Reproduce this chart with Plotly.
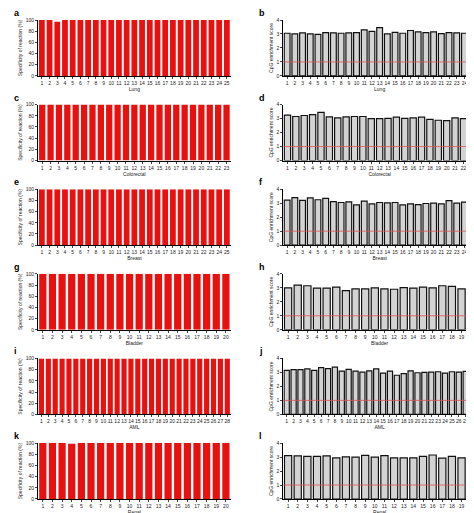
import plotly.graph_objects as go
from plotly.subplots import make_subplots

tissues = ['Lung', 'Colorectal', 'Breast', 'Bladder', 'AML', 'Renal']
left_letters = ['a', 'c', 'e', 'g', 'i', 'k']
right_letters = ['b', 'd', 'f', 'h', 'j', 'l']

# specificity of reaction (%)
spec_lung = [100, 100, 97] + [100] * 22
spec_colorectal = [100] * 23
spec_breast = [100] * 25
spec_bladder = [100] * 20
spec_aml = [100] * 28
spec_renal = [100, 100, 100, 99, 100, 100, 100, 100, 100, 100, 100, 100, 100, 100, 100, 100, 100, 100, 100, 100]

# CpG enrichment score
cpg_lung = [3.05, 3.0, 3.08, 3.0, 2.97, 3.1, 3.08, 3.05, 3.08, 3.1, 3.3, 3.18, 3.45, 3.0, 3.12,
            3.05, 3.25, 3.15, 3.1, 3.15, 3.02, 3.1, 3.08, 3.05, 3.05]
cpg_colorectal = [3.25, 3.15, 3.22, 3.28, 3.45, 3.12, 3.05, 3.12, 3.15, 3.15, 3.0, 3.0, 3.02,
                  3.1, 3.02, 3.05, 3.1, 2.95, 2.88, 2.85, 3.05, 3.0, 2.95]
cpg_breast = [3.22, 3.4, 3.2, 3.38, 3.25, 3.35, 3.12, 3.05, 3.1, 2.88, 3.15, 2.95, 3.05, 3.02,
              3.05, 2.88, 2.95, 2.9, 2.98, 3.0, 2.95, 3.18, 3.0, 3.08, 3.1]
cpg_bladder = [3.0, 3.2, 3.15, 2.98, 2.98, 3.05, 2.8, 2.92, 2.92, 3.0, 2.92, 2.9, 3.02, 2.98,
               3.05, 3.0, 3.15, 3.1, 2.92, 2.95]
cpg_aml = [3.15, 3.2, 3.2, 3.25, 3.15, 3.35, 3.28, 3.38, 3.1, 3.22, 3.1, 3.02, 3.12, 3.25, 2.95,
           3.1, 2.8, 2.92, 3.12, 2.98, 3.0, 3.02, 3.05, 2.95, 3.05, 3.02, 3.08, 3.05]
cpg_renal = [3.1, 3.08, 3.05, 3.05, 3.08, 2.95, 3.02, 3.0, 3.12, 3.0, 3.1, 2.95, 2.95, 2.95,
             3.05, 3.15, 2.92, 3.05, 2.95, 3.12]

spec = [spec_lung, spec_colorectal, spec_breast, spec_bladder, spec_aml, spec_renal]
cpg = [cpg_lung, cpg_colorectal, cpg_breast, cpg_bladder, cpg_aml, cpg_renal]

fig = make_subplots(rows=6, cols=2, horizontal_spacing=0.12, vertical_spacing=0.06)
tick_font = dict(size=5, color='#222', family='Liberation Sans')

for i in range(6):
    r = i + 1
    n = len(spec[i])
    cats = [str(k) for k in range(1, n + 1)]
    fig.add_trace(go.Bar(x=cats, y=spec[i], marker=dict(color='#e8110f', line=dict(width=0)),
                         width=0.75, showlegend=False), row=r, col=1)
    fig.add_trace(go.Bar(x=cats, y=cpg[i], marker=dict(color='#d3d3d3', line=dict(color='#111', width=1.2)),
                         width=0.75, showlegend=False), row=r, col=2)
    for c in (1, 2):
        fig.update_xaxes(title=dict(text=tissues[i], font=tick_font, standoff=1), tickfont=tick_font,
                         tickangle=0, tickmode='array', tickvals=cats, ticktext=cats,
                         showline=True, linecolor='black', linewidth=1, ticks='outside',
                         ticklen=2, row=r, col=c)
    fig.update_yaxes(range=[0, 100], dtick=20, tickfont=tick_font, showline=True, linecolor='black',
                     ticks='outside', ticklen=2, showgrid=False, zeroline=False,
                     title=dict(text='Specificity of reaction (%)', font=tick_font, standoff=2), row=r, col=1)
    fig.update_yaxes(range=[0, 4], dtick=1, tickfont=tick_font, showline=True, linecolor='black',
                     ticks='outside', ticklen=2, showgrid=False, zeroline=False,
                     title=dict(text='CpG enrichment score', font=tick_font, standoff=2), row=r, col=2)
    fig.add_hline(y=1, line=dict(color='#e05050', width=0.8), row=r, col=2)

    ya = fig.layout['yaxis' + ('' if 2 * i + 1 == 1 else str(2 * i + 1))].domain
    xl = fig.layout['xaxis' + ('' if 2 * i + 1 == 1 else str(2 * i + 1))].domain
    xr = fig.layout['xaxis' + str(2 * i + 2)].domain
    for letter, xd in ((left_letters[i], xl), (right_letters[i], xr)):
        fig.add_annotation(text='<b>' + letter + '</b>', xref='paper', yref='paper',
                           x=xd[0] - 0.06, y=ya[1], showarrow=False,
                           font=dict(size=9, family='Liberation Sans', color='black'),
                           xanchor='left', yanchor='bottom')

fig.update_layout(width=474, height=513, margin=dict(l=30, r=6, t=12, b=22),
                  plot_bgcolor='white', paper_bgcolor='white', bargap=0.25)
fig.update_xaxes(showgrid=False)
fig.write_html("out.html")
